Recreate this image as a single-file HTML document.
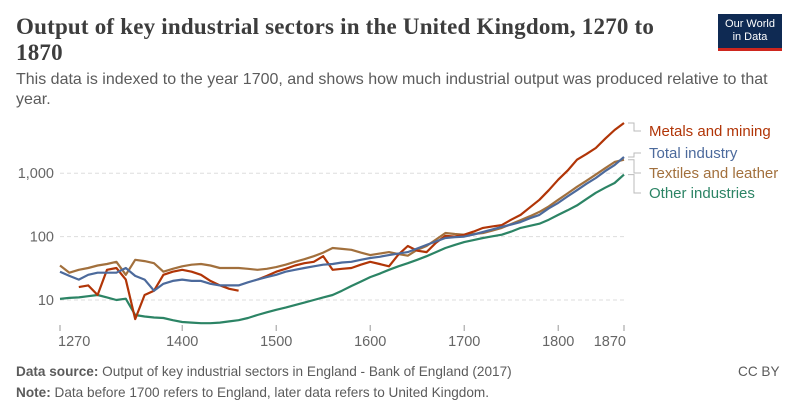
<!DOCTYPE html>
<html><head><meta charset="utf-8">
<style>
body{margin:0;background:#fff;font-family:"Liberation Sans",sans-serif;}
#wrap{position:relative;width:800px;height:418px;overflow:hidden;}
h1{position:absolute;left:16px;top:14px;margin:0;width:640px;font-family:"Liberation Serif",serif;font-weight:bold;font-size:23px;line-height:26px;color:#3d3d3d;letter-spacing:0.2px}
.sub{position:absolute;left:16px;top:70px;width:775px;font-size:16px;line-height:20px;color:#5b5b5b}
.logo{position:absolute;left:718px;top:14px;width:64px;height:37px;background:#0f2a53;color:#fff;font-size:11px;line-height:13px;text-align:center;padding-top:4px;box-sizing:border-box;border-bottom:3px solid #ce261e}
.foot{position:absolute;left:16px;font-size:13.6px;color:#5b5b5b}
.foot b{color:#5b5b5b}
</style></head><body>
<div id="wrap">
<h1>Output of key industrial sectors in the United Kingdom, 1270 to 1870</h1>
<div class="sub">This data is indexed to the year 1700, and shows how much industrial output was produced relative to that year.</div>
<div class="logo">Our World<br>in Data</div>
<svg id="chart" width="800" height="418" style="position:absolute;left:0;top:0"></svg>
<div class="foot" style="top:364px"><b>Data source:</b> Output of key industrial sectors in England - Bank of England (2017)</div>
<div class="foot" style="top:364px;left:738px">CC BY</div>
<div class="foot" style="top:385px"><b>Note:</b> Data before 1700 refers to England, later data refers to United Kingdom.</div>
</div>
<script>
const years=[1270,1280,1290,1300,1310,1320,1330,1340,1350,1360,1370,1380,1390,1400,1410,1420,1430,1440,1450,1460,1470,1480,1490,1500,1510,1520,1530,1540,1550,1560,1570,1580,1590,1600,1610,1620,1630,1640,1650,1660,1670,1680,1690,1700,1710,1720,1730,1740,1750,1760,1770,1780,1790,1800,1810,1820,1830,1840,1850,1860,1870];
const metals=[null,null,16,17,12,30,32,21,5,12,14,25,28,30,28,25,20,17,15,14,null,21,24,28,31,35,38,40,49,30,31,32,36,40,37,34,52,71,60,57,80,103,100,107,120,137,145,152,185,220,290,380,540,790,1100,1630,2000,2500,3500,4800,6200];
const total=[28,24,21,25,27,27,27,32,24,21,14,18,20,21,20,20,18,17,17,17,19,21,23,25,28,30,32,34,36,37,39,40,43,46,48,51,54,57,65,74,84,95,98,100,108,118,130,142,155,170,195,220,280,340,430,540,680,840,1080,1340,1800];
const textiles=[35,27,30,32,35,37,40,25,43,41,38,28,31,34,36,37,35,32,32,32,31,30,31,33,36,40,44,49,56,66,64,62,56,51,54,57,53,50,62,71,90,114,110,107,110,114,125,137,158,182,210,245,300,380,480,610,760,950,1200,1500,1630];
const other=[10.4,10.8,11,11.5,12,11,10,10.5,5.8,5.5,5.3,5.2,4.8,4.5,4.4,4.3,4.3,4.4,4.6,4.8,5.2,5.8,6.4,7,7.6,8.3,9.1,10,11,12,14,16.6,19.5,23,26,30,34,38,43,49,57,66,74,82,88,95,101,107,120,137,148,160,185,220,260,310,390,490,590,700,950];
const yTicks=[10,100,1000];
const yTickLabels=["10","100","1,000"];
const xTicks=[1270,1400,1500,1600,1700,1800,1870];
const svg=document.getElementById('chart');
const NS='http://www.w3.org/2000/svg';
const X=y=>60+(y-1270)*(624-60)/600;
const Y=v=>300-(Math.log10(v)-1)*63.4;
function el(t,a){const e=document.createElementNS(NS,t);for(const k in a)e.setAttribute(k,a[k]);svg.appendChild(e);return e;}
yTicks.forEach((v,i)=>{
 const g=el('line',{x1:60,x2:624,y1:Y(v),y2:Y(v),stroke:'#ddd','stroke-dasharray':'4,3'});
 
 
 const t=el('text',{x:54,y:Y(v)+5,'text-anchor':'end','font-size':14.5,fill:'#666','font-family':'Liberation Sans'});
 t.textContent=yTickLabels[i];
 
 
});
xTicks.forEach((v,i)=>{
 const l=el('line',{x1:X(v),x2:X(v),y1:325,y2:331,stroke:'#999'});
 
 
 const anchor=i===0?'start':(i===xTicks.length-1?'end':'middle');
 const t=el('text',{x:X(v)+(i===0?-2:(i===xTicks.length-1?2:0)),y:346,'text-anchor':anchor,'font-size':14.5,fill:'#666','font-family':'Liberation Sans'});
 t.textContent=v;
 
 
});
const series=[
 {name:'textiles-line',data:textiles,c:'#a2703d',label:'Textiles and leather',ly:178},
 {name:'other-industries-line',data:other,c:'#2c8465',label:'Other industries',ly:198},
 {name:'metals-line',data:metals,c:'#b13507',label:'Metals and mining',ly:136},
 {name:'total-industry-line',data:total,c:'#4c6a9c',label:'Total industry',ly:158}
];
series.forEach(s=>{
 let d='',pen=false;
 s.data.forEach((v,i)=>{if(v==null){pen=false;return;}d+=(pen?'L':'M')+X(years[i]).toFixed(1)+','+Y(v).toFixed(1);pen=true;});
 const p=el('path',{d:d,fill:'none',stroke:s.c,'stroke-width':2.2,'stroke-linejoin':'round'});
 
 
 const last=s.data[s.data.length-1];
 const ey=Y(last);
 const c=el('path',{d:`M628,${ey}H634V${s.ly-5}H641`,fill:'none',stroke:'#bbb','stroke-width':1});
 
 
 const t=el('text',{x:649,y:s.ly,'font-size':15,fill:s.c,'font-family':'Liberation Sans'});
 t.textContent=s.label;
 
 
});
</script>
</body></html>
